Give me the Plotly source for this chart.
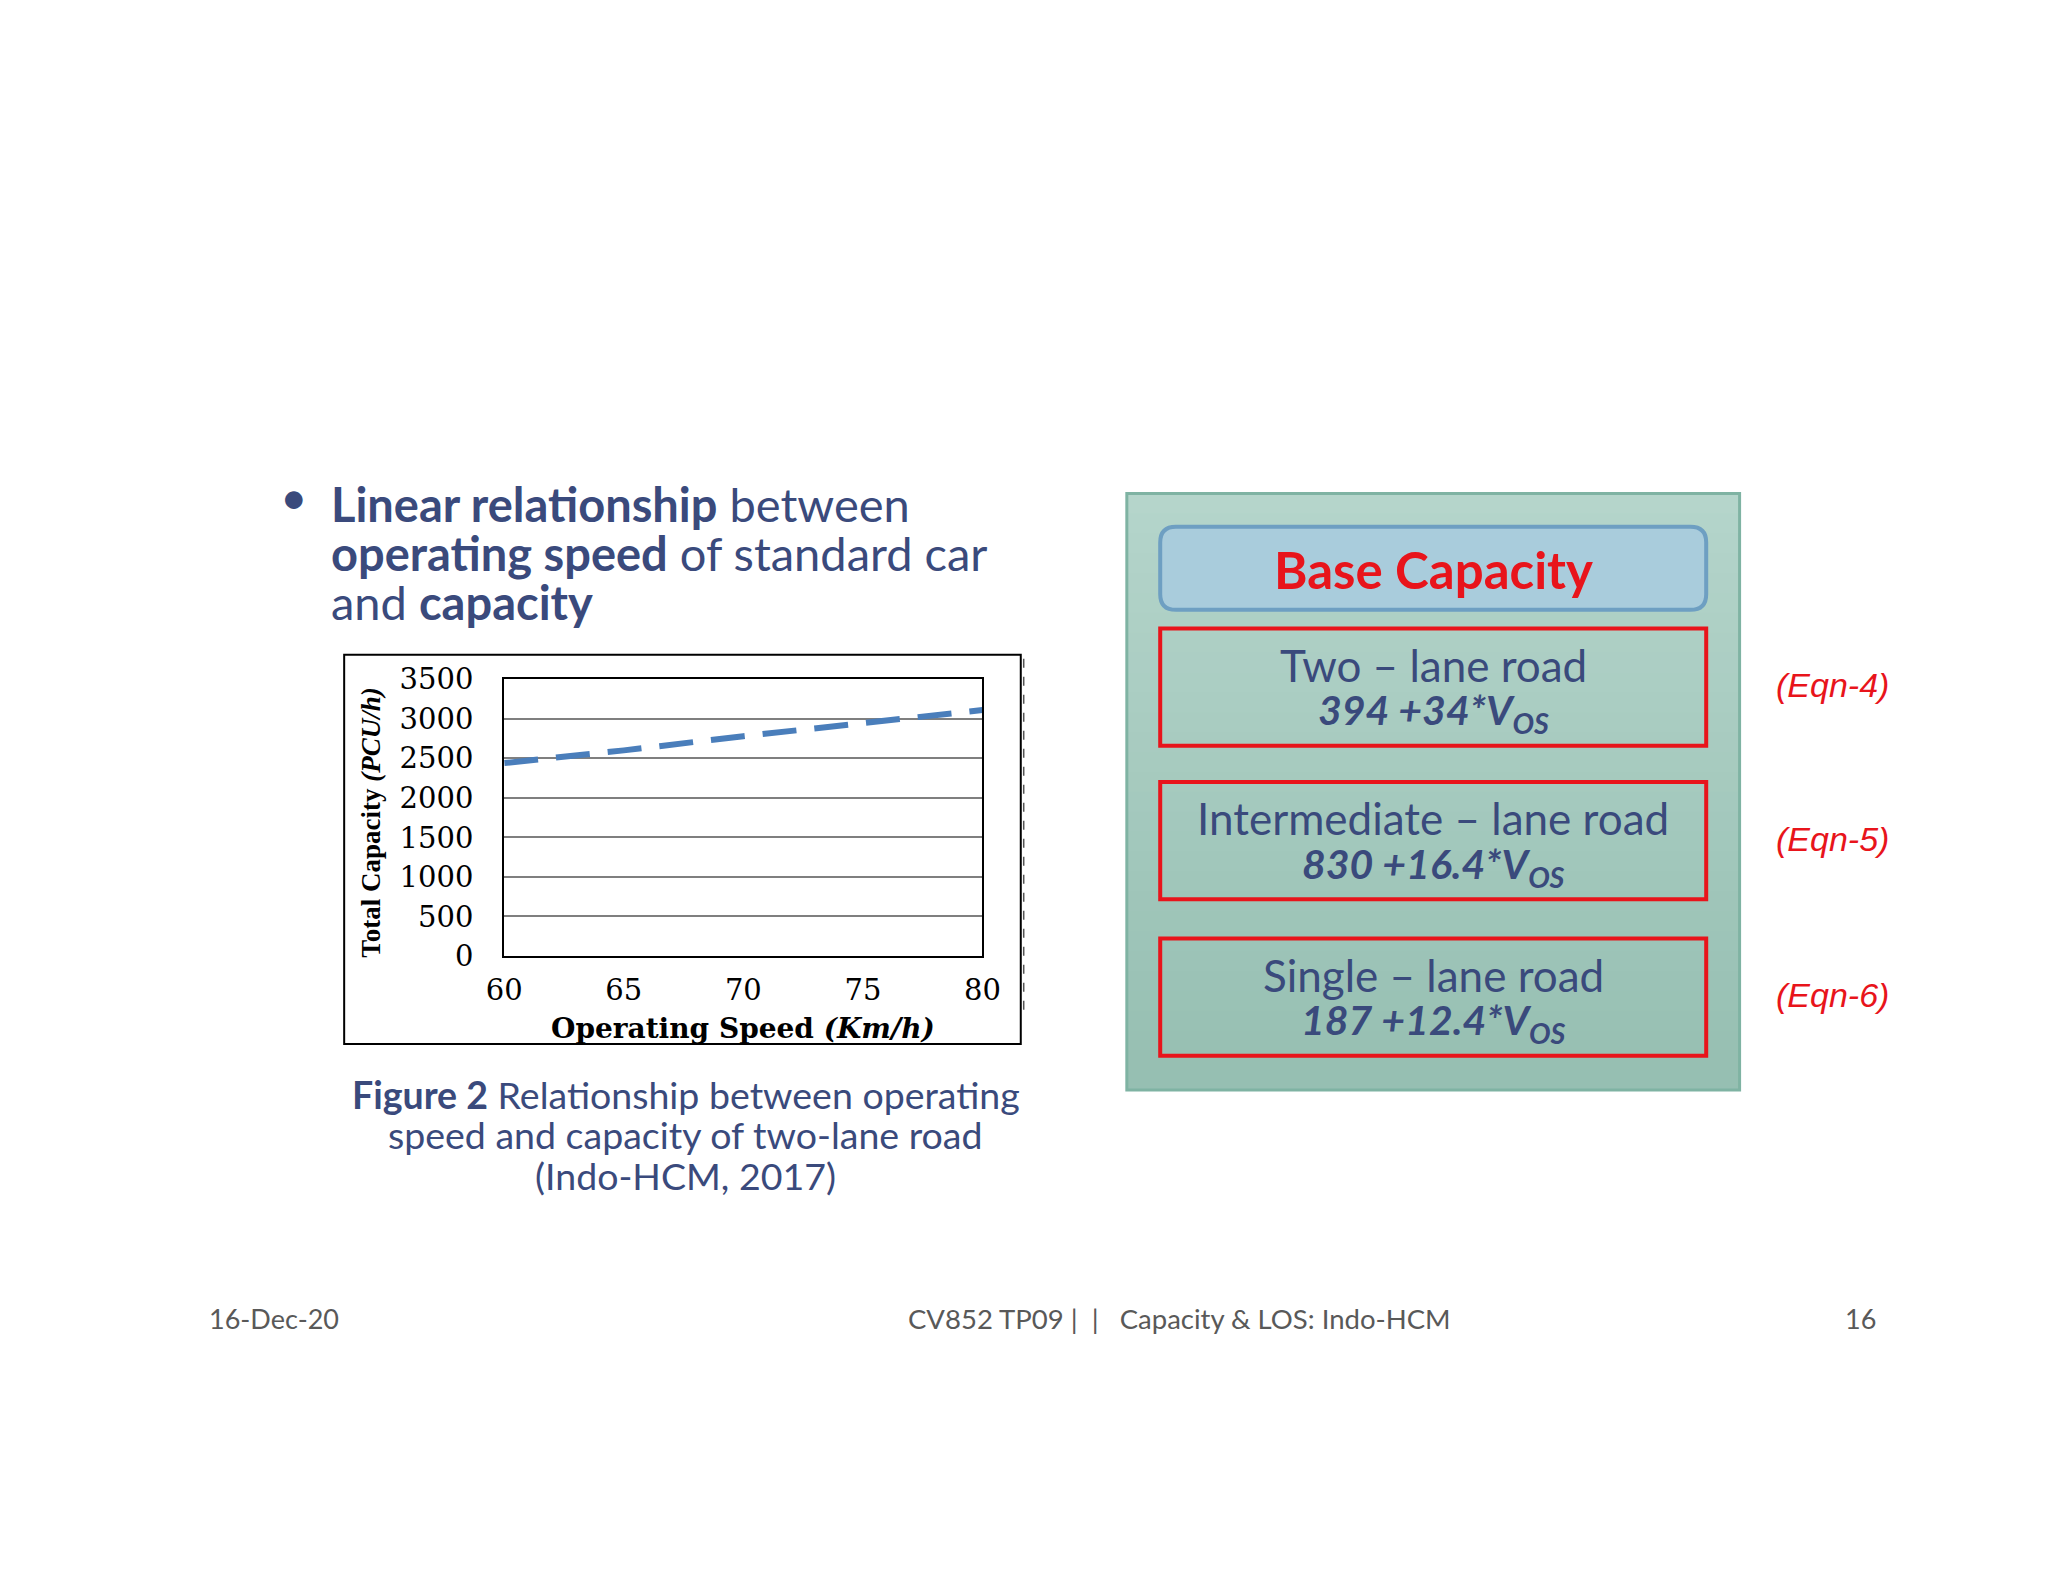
import plotly.graph_objects as go

# data (two-lane road, Indo-HCM 2017)
speed = [60, 65, 70, 75, 80]
capacity = [2440, 2600, 2780, 2940, 3110]

y_ticks = [0, 500, 1000, 1500, 2000, 2500, 3000, 3500]
x_ticks = [60, 65, 70, 75, 80]

road_types = ["Two – lane road", "Intermediate – lane road", "Single – lane road"]
intercepts = ["394", "830", "187"]
slopes = ["34", "16.4", "12.4"]
eqn_labels = ["(Eqn-4)", "(Eqn-5)", "(Eqn-6)"]

# keep the figure inside the window (body has an 8px margin);
# everything of the slide sits well inside this area
W, H = 2000, 1540
NAVY = "#3A4A7C"
RED = "#E8141B"
GREY = "#595959"


def px(x):
    return (x - 8) / W


def py(y):
    return 1 - (y - 8) / H


def label(x, y, text, size, color, family="Lato", xanchor="center", angle=0):
    return dict(x=px(x), y=py(y), xref="paper", yref="paper", text=text,
                showarrow=False, xanchor=xanchor, yanchor="middle", textangle=angle,
                font=dict(family=family, size=size, color=color))


fig = go.Figure()

fig.add_trace(go.Scatter(
    x=speed, y=capacity, mode="lines",
    line=dict(color="#4A7EBB", width=6, dash="34px,18px"),
    showlegend=False, hoverinfo="skip",
))

shapes = []
annotations = []

# outer frame of the pasted figure
shapes.append(dict(type="rect", xref="paper", yref="paper",
                   x0=px(332), x1=px(1021), y0=py(1050), y1=py(652),
                   line=dict(color="black", width=2), fillcolor="white", layer="below"))
shapes.append(dict(type="line", xref="paper", yref="paper",
                   x0=px(1024), x1=px(1024), y0=py(1015), y1=py(652),
                   line=dict(color="#555555", width=1.5, dash="dash")))

# axis titles
annotations.append(label(359, 823, "<b>Total Capacity <i>(PCU/h)</i></b>", 27, "black",
                         family="Liberation Serif", angle=-90))
annotations.append(label(738, 1034, "<b>Operating Speed <i>(Km/h)</i></b>", 28, "black",
                         family="DejaVu Serif"))

# bullet text
annotations.append(label(281, 491, "●", 36, NAVY))
bullet_lines = [
    "<b>Linear relationship</b> between",
    "<b>operating speed</b> of standard car",
    "and <b>capacity</b>",
]
for i, t in enumerate(bullet_lines):
    annotations.append(label(317, 498 + 50 * i, t, 47, NAVY, xanchor="left"))

# caption
caption_lines = [
    "<b>Figure 2</b> Relationship between operating",
    "speed and capacity of two-lane road",
    "(Indo-HCM, 2017)",
]
for i, t in enumerate(caption_lines):
    annotations.append(label(680, 1102 + 41 * i, t, 37.5, NAVY))

# right panel background, light at the top and darker at the bottom
n_band = 30
top, bottom = 487, 1097
for k in range(n_band):
    f = k / (n_band - 1)
    r = int(181 + (150 - 181) * f)
    g = int(213 + (191 - 213) * f)
    b = int(203 + (178 - 203) * f)
    ya = top + (bottom - top) * k / n_band
    yb = top + (bottom - top) * (k + 1) / n_band + 1
    shapes.append(dict(type="rect", xref="paper", yref="paper",
                       x0=px(1129), x1=px(1753), y0=py(yb), y1=py(ya),
                       line=dict(width=0), fillcolor=f"rgb({r},{g},{b})", layer="below"))
shapes.append(dict(type="rect", xref="paper", yref="paper",
                   x0=px(1129), x1=px(1753), y0=py(bottom), y1=py(top),
                   line=dict(color="#7FB3A3", width=3), fillcolor="rgba(0,0,0,0)"))

# header rounded box
x0, x1, y0, y1, rr = 1163, 1719, 521, 606, 16
path = (f"M {px(x0 + rr)},{py(y0)} L {px(x1 - rr)},{py(y0)} "
        f"Q {px(x1)},{py(y0)} {px(x1)},{py(y0 + rr)} L {px(x1)},{py(y1 - rr)} "
        f"Q {px(x1)},{py(y1)} {px(x1 - rr)},{py(y1)} L {px(x0 + rr)},{py(y1)} "
        f"Q {px(x0)},{py(y1)} {px(x0)},{py(y1 - rr)} L {px(x0)},{py(y0 + rr)} "
        f"Q {px(x0)},{py(y0)} {px(x0 + rr)},{py(y0)} Z")
shapes.append(dict(type="path", xref="paper", yref="paper", path=path,
                   line=dict(color="#6E9FC2", width=4), fillcolor="#A9CCDC"))
annotations.append(label(1441, 565, "<b>Base Capacity</b>", 51, RED))

box_tops = [625, 782, 942]
for i in range(3):
    t0 = box_tops[i]
    shapes.append(dict(type="rect", xref="paper", yref="paper",
                       x0=px(1163), x1=px(1719), y0=py(t0 + 120), y1=py(t0),
                       line=dict(color=RED, width=4), fillcolor="rgba(0,0,0,0)"))
    annotations.append(label(1441, t0 + 37, road_types[i], 44, NAVY))
    annotations.append(label(1441, t0 + 86,
                             f"<b><i>{intercepts[i]} +{slopes[i]}*V<sub>OS</sub></i></b>",
                             41, NAVY))
    annotations.append(label(1848, t0 + 58, f"<i>{eqn_labels[i]}</i>", 34, RED,
                             family="Liberation Sans"))

# footer
annotations.append(label(192, 1331, "16-Dec-20", 27, GREY, xanchor="left"))
annotations.append(label(1183, 1331, "CV852 TP09 |  |   Capacity &amp; LOS: Indo-HCM", 27.5, GREY))
annotations.append(label(1876, 1331, "16", 27, GREY))

fig.update_layout(
    width=W, height=H,
    margin=dict(l=0, r=0, t=0, b=0),
    paper_bgcolor="white",
    plot_bgcolor="white",
    shapes=shapes,
    annotations=annotations,
    xaxis=dict(domain=[px(495), px(982)], range=[60, 80], tickvals=x_ticks,
               showgrid=False, zeroline=False, showline=True, mirror=True,
               linecolor="black", linewidth=2, ticks="", ticklabelstandoff=7,
               tickfont=dict(family="DejaVu Serif", size=29, color="black")),
    yaxis=dict(domain=[py(960), py(677)], range=[0, 3500], tickvals=y_ticks,
               showgrid=True, gridcolor="#7F7F7F", gridwidth=2, zeroline=False,
               showline=True, mirror=True, linecolor="black", linewidth=2,
               ticks="", ticklabelstandoff=23,
               tickfont=dict(family="DejaVu Serif", size=29, color="black")),
)

fig.write_html("out.html")
